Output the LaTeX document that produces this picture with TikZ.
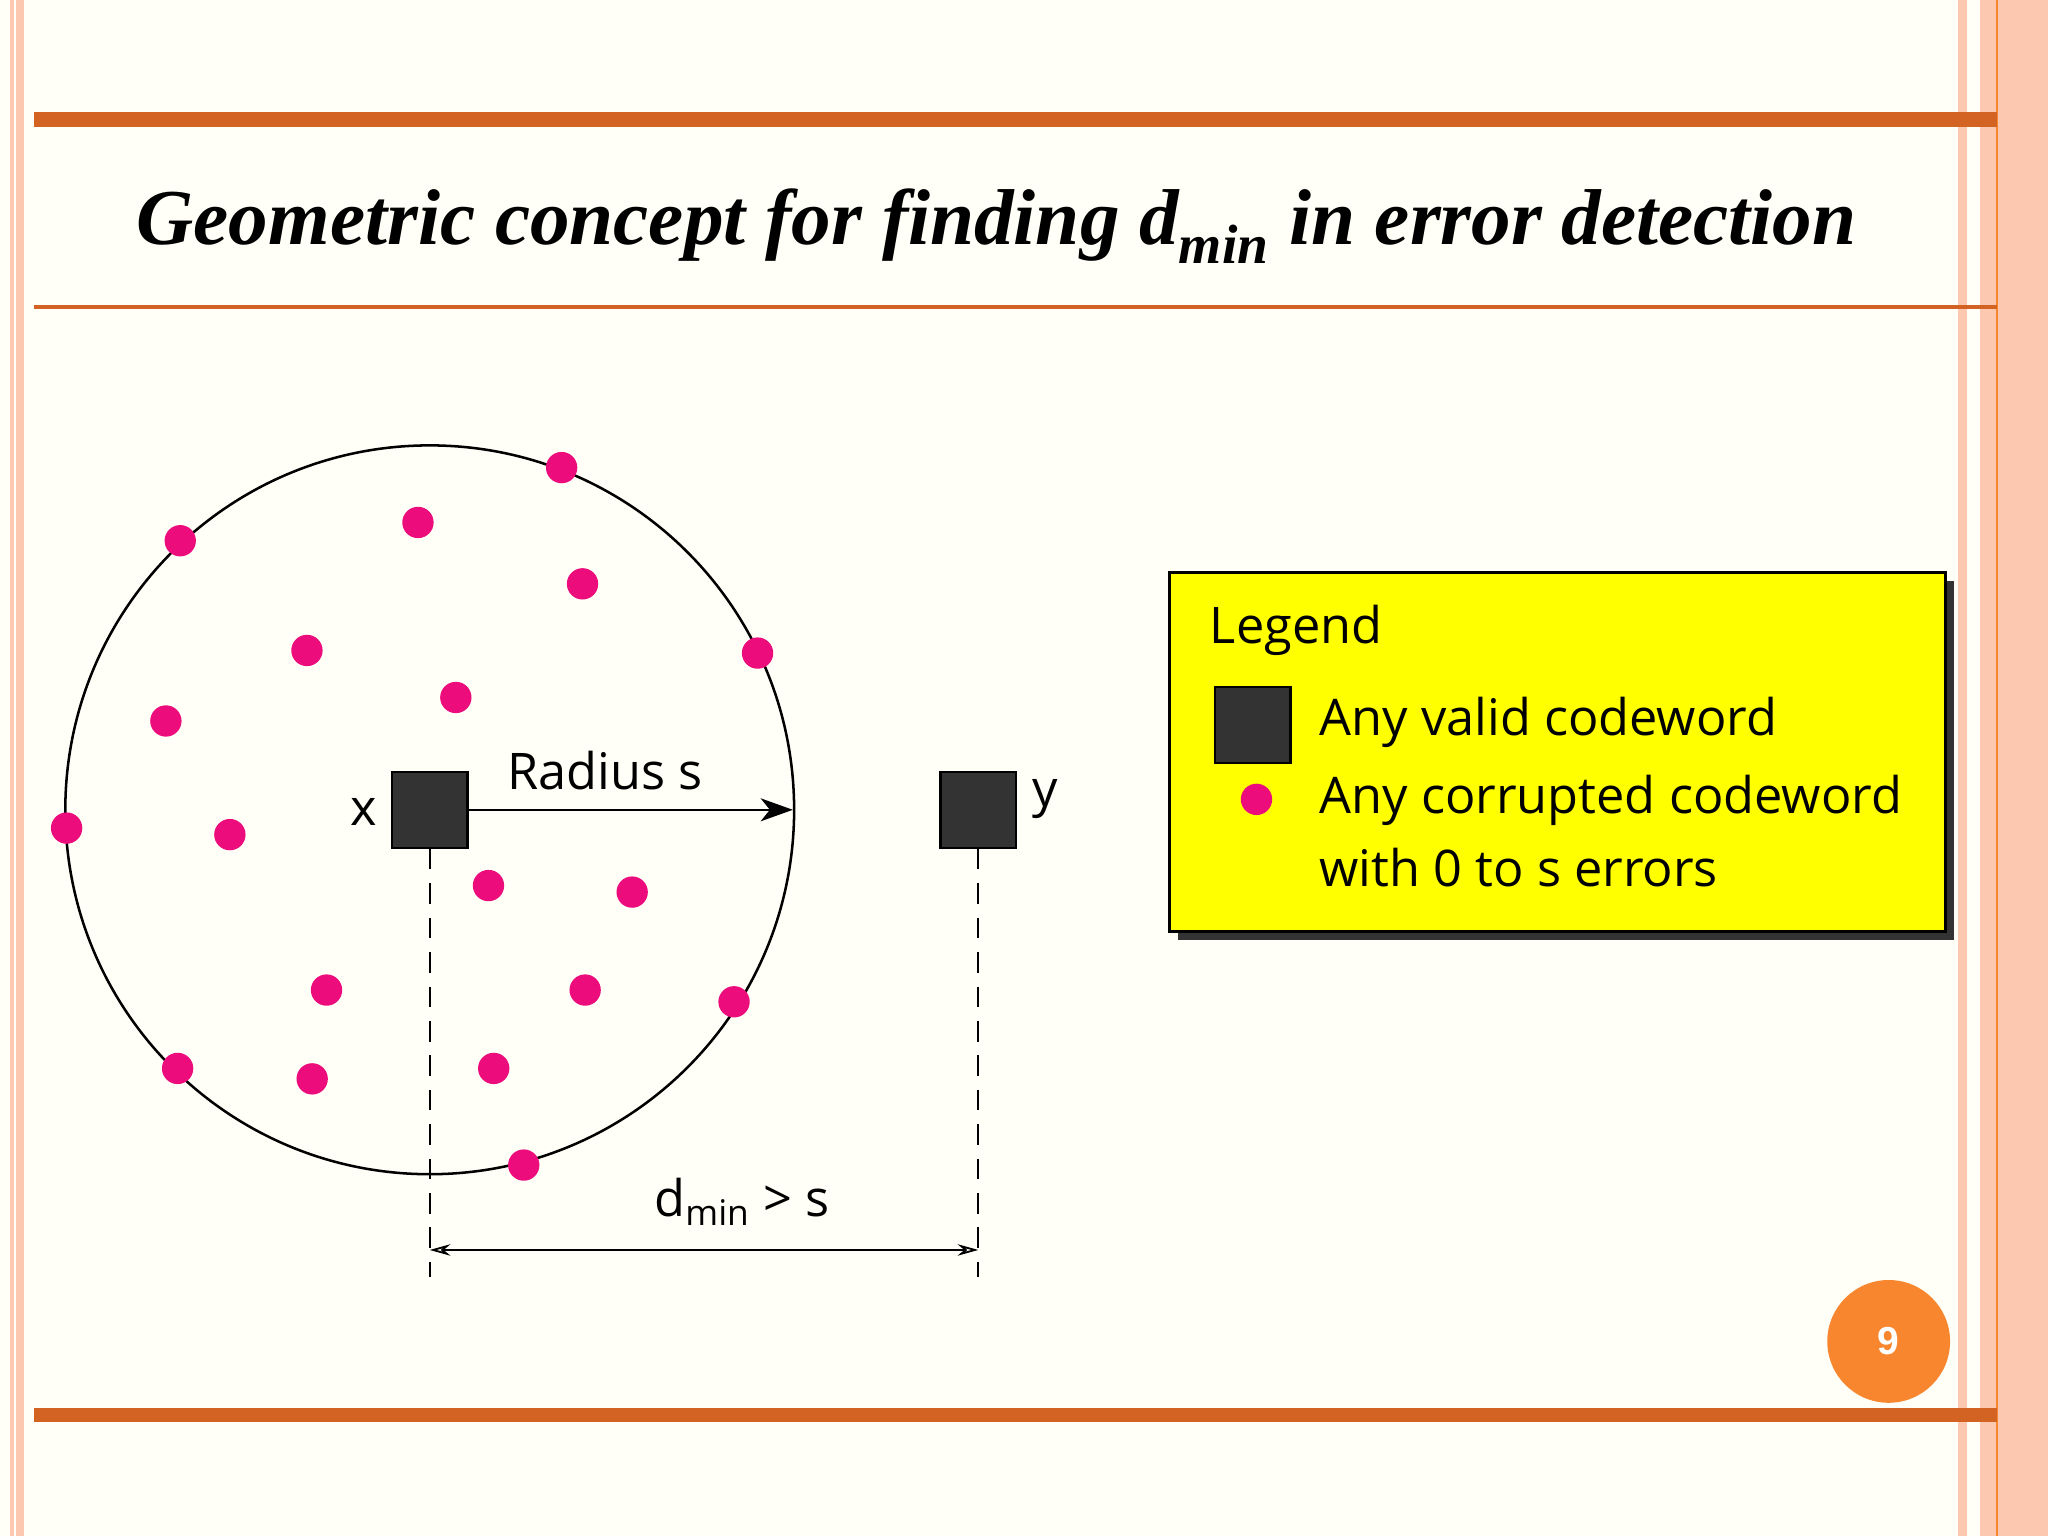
\documentclass[tikz,border=0pt]{standalone}
\usepackage{fontspec}
\setmainfont{Liberation Serif}
\newfontfamily\legfont{Open Sans}
\newfontfamily\numfont{Liberation Sans}
\usetikzlibrary{arrows.meta}
\definecolor{bar}{HTML}{D26322}
\definecolor{salmon}{HTML}{FCC8B0}
\definecolor{pinkdot}{HTML}{EC0C7C}
\definecolor{cw}{HTML}{333333}
\definecolor{pg}{HTML}{F7862E}
\definecolor{legy}{HTML}{FFFF00}
\tikzset{
 px/.style={x=0.02cm,y=-0.02cm},
 dot/.style={circle,fill=pinkdot,inner sep=0pt,minimum size=24*0.02cm},
 code/.style={draw=black,line width=1pt,fill=cw,inner sep=0pt,minimum size=58*0.02cm},
 lbl/.style={font=\legfont\fontsize{22}{26}\selectfont,inner sep=0pt},
 dim/.style={dash pattern=on 9pt off 6pt,line width=0.8pt}
}
\begin{document}
\begin{tikzpicture}[px]
\fill[white!97!yellow] (0,0) rectangle (1568,1176);
\useasboundingbox (0,0) rectangle (1568,1176);
% side stripes
\fill[salmon] (8,0) rectangle (11,1176);
\fill[salmon] (12,0) rectangle (18,1176);
\fill[salmon] (1499,0) rectangle (1506,1176);
\fill[salmon] (1516,0) rectangle (1568,1176);
\fill[pg] (1528.5,0) rectangle (1529.5,1176);
% bars
\fill[bar] (26,86) rectangle (1529,97);
\fill[bar] (26,233.5) rectangle (1529,236.5);
\fill[bar] (26,1078) rectangle (1529,1089);
% title
\node[font=\fontsize{34.5}{38}\selectfont\bfseries\itshape] (title) at (763,173) {Geometric concept for finding d\textsubscript{min} in error detection};
% circle
\node[draw=black,line width=1.1pt,circle,minimum size=558*0.02cm,inner sep=0pt] (c) at (329,620) {};
\foreach \x/\y [count=\i] in {430/358,138/414,320/400,446/447,235/498,580/500,349/534,127/552,51/634,176/639,374/678,484/683,250/758,448/758,562/767,136/818,239/826,378/818,401/892}
  \node[dot] (d\i) at (\x,\y) {};
% codewords
\node[code] (x) at (329,620) {};
\node[code] (y) at (749,620) {};
\node[lbl,anchor=east] (xl) at (289,622) {x};
\node[lbl,anchor=west] (yl) at (790,612) {y};
\coordinate (re) at (607,620);
\draw[line width=1pt,-{Stealth[length=14pt,width=10pt,inset=4pt]}] (x.east) -- (re);
\node[lbl] (rl) at (463,590) {Radius s};
% dimension
\coordinate (xb) at (329,978);
\coordinate (yb) at (749,978);
\draw[dim] (x.south) -- (xb);
\draw[dim] (y.south) -- (yb);
\coordinate (da) at (329,957);
\coordinate (db) at (749,957);
\draw[line width=0.8pt,{Stealth[length=9pt,width=5pt,open]}-{Stealth[length=9pt,width=5pt,open]}] (da) -- (db);
\node[lbl] (dl) at (568,920) {d\textsubscript{min} \textgreater{} s};
% legend
\fill[cw] (902,445) rectangle (1496,720);
\node[draw=black,line width=1.5pt,fill=legy,minimum width=594*0.02cm,minimum height=275*0.02cm,inner sep=0pt,anchor=north west] (leg) at (894,437) {};
\node[lbl,anchor=west] (lt) at (926,483) {Legend};
\node[code] (ls) at (959,555) {};
\node[dot] (ld) at (962,612) {};
\node[lbl,anchor=west] (l1) at (1010,553) {Any valid codeword};
\node[lbl,anchor=west] (l2) at (1010,613) {Any corrupted codeword};
\node[lbl,anchor=west] (l3) at (1010,664) {with 0 to s errors};
% page number
\node[circle,fill=pg,minimum size=94*0.02cm,inner sep=0pt,text=white,font=\numfont\bfseries\fontsize{17}{20}\selectfont] (pn) at (1446,1027) {9};
\end{tikzpicture}
\end{document}
